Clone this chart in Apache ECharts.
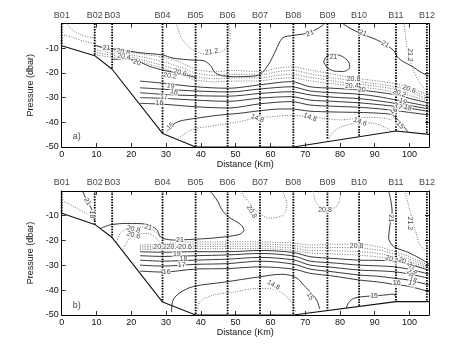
<!DOCTYPE html>
<html><head><meta charset="utf-8">
<script src="https://cdn.jsdelivr.net/npm/echarts@6/dist/echarts.min.js"></script>
<style>html,body{margin:0;padding:0;background:#fff}#c{width:474px;height:355px}</style>
</head><body><div id="c"></div>
<script>
// ---------- stations ----------
const stationNames = ['B01','B02','B03','B04','B05','B06','B07','B08','B09','B10','B11','B12'];
const stationKm = [0, 9.5, 14.5, 29, 38.5, 47.7, 57, 66.6, 76.4, 85.5, 96.1, 105];
const stationBottomA = [-9, -13, -18.5, -44.5, -50, -50, -50, -50, -47, -45.8, -43.5, -44.8];
const stationBottomB = [-9, -13.5, -18.8, -44.8, -50, -50, -50, -50, -48.2, -46.5, -44.6, -44.6];
const topoA = [[0,-9],[9.5,-13],[14.5,-18.5],[29,-44.5],[38.5,-50],[66.6,-50],[96.1,-43.5],[105.6,-44.9]];
const topoB = [[0,-9],[9.5,-13.5],[14.5,-18.8],[29,-44.8],[38.5,-50],[66.6,-50],[96.1,-44.6],[105.6,-44.6]];

// ---------- panel a) contours ----------
const a21L = [[9.4,-8.7],[12.9,-10],[15.8,-10.4],[22.5,-11.8],[29,-12.7],[32,-14],[37.9,-14.8],[40.7,-15],[42.8,-17],[44.2,-20],[46.5,-21.2],[50.3,-21.5],[54,-21.4],[57,-20.6],[59.5,-16.5],[61.5,-11],[63.5,-5.8],[66.5,-4.8],[70.5,-3.9],[73.8,-1.9],[75.5,0]];
const a21R = [[80.8,0],[82.4,-1.5],[85.8,-3.9],[90.6,-6.6],[94,-9.3],[95.8,-11.5],[96.5,-13.5],[98.2,-15.4],[101,-17.5],[103,-19.5],[105.6,-21.3]];
const a21Loop = [[75.3,-15.5],[76.2,-13.2],[78,-12.4],[80.5,-13.2],[82.5,-15.5],[82.8,-17.8],[81,-19.4],[78.3,-19.2],[76.3,-17.8],[75.3,-15.5]];
const a20 = [[14.5,-14.5],[18,-14.4],[20.5,-14.8],[22.5,-15.5],[25,-17.2],[27.3,-18.2],[29.5,-19],[33,-20],[38.5,-21.8]];
const xsA = [22.5, 29.5, 38.5, 48, 57, 66, 71.4, 78, 85.5, 91, 96.3, 100, 105.6];
const aL1 = [-23.3,-24.2,-25.6,-26.2,-24.8,-23.5,-25.6,-26.2,-26.9,-27.8,-28.9,-30.3,-32.2];
const aL2 = [-26,-26.6,-27.3,-27.7,-26.5,-25.6,-27.3,-28,-28.6,-29.6,-31,-32,-33.6];
const aL3 = [-28,-28.7,-29.2,-29.4,-28.3,-27.6,-28.9,-29.8,-30.4,-31.3,-32.4,-33.2,-34.6];
const aL4 = [-30,-30.3,-31,-31.5,-30.2,-29.6,-31,-31.5,-32.1,-32.8,-33.6,-34.3,-35.6];
const aL5 = [-32.3,-32.7,-33.7,-34.2,-32.5,-31.6,-33,-33.5,-33.9,-34.5,-35.3,-36,-37];
const a15 = [[30.5,-43.5],[31.5,-41.3],[34,-39.5],[38.5,-38.4],[44.6,-37.2],[51.3,-36.3],[57,-35.3],[63,-34.6],[66,-34.6],[71.4,-35.5],[78,-35.8],[85.5,-36],[91,-36.3],[95,-37],[97.3,-40],[99.5,-43.8]];
const xsBandA = [9.5,14.5,20,25,29.5,34,38.5,44,50,57,62,66,71.4,78,85.5,91,96.3,100,105.6];
const aD1 = [-9,-10.9,-11.7,-12.7,-13.7,-15.6,-18.5,-19.5,-19,-19.5,-18,-17.5,-18.8,-20.5,-22.3,-23.3,-24.5,-26,-28.8];
const aD2 = [-10.5,-11.9,-12.7,-14.1,-15.6,-17.6,-20,-21,-20.6,-20.8,-19.5,-19,-20.3,-22,-23.5,-24.5,-25.7,-27,-29.7];
const aD3 = [-11.6,-12.9,-13.6,-15.4,-17.1,-19.1,-21.5,-22.3,-22,-22,-21,-20.6,-21.8,-23.2,-24.6,-25.5,-26.7,-28,-30.5];
const aD4 = [-12.6,-13.7,-14.3,-16.4,-18.3,-20.6,-22.8,-23.6,-23.3,-23.2,-22.3,-22,-23.2,-24.4,-25.6,-26.6,-27.8,-29.1,-31.4];
const a212L = [[33,0],[34.5,-6],[37.8,-10.7],[41.5,-12.5],[45,-12],[47.5,-9.4],[48.5,-5],[48,0]];
const a212R = [[98.5,0],[98.7,-3],[99.2,-9.4],[100,-14],[101.1,-18.8],[103,-24.2],[105.6,-28.5]];
const aTL1 = [[0,-4.5],[3,-5.5],[6,-7],[9.4,-8]];
const aTL2 = [[1.5,0],[3,-2.5],[5.5,-4.5],[9.4,-6]];
const a148 = [[33.5,-46.5],[36,-44],[38.2,-42.6],[44.5,-41.2],[50,-40],[55.6,-38.4],[62,-37.5],[66,-37.2],[71.4,-37.7],[76,-38.5],[80,-39],[84,-38.5],[88,-38],[92,-38.2],[95,-39]];
const a146 = [[76.5,-47.5],[78,-44],[81,-41.5],[85.8,-40.2],[90,-40.5],[93,-42],[95,-43.8]];

// ---------- panel b) contours ----------
const b21L = [[6,0],[6.6,-2],[7.5,-4.5],[8.5,-7],[9.1,-9.5],[9.4,-12]];
const bTLd = [[0,-4],[2,-5.2],[5,-7.5],[7.5,-9.5],[9.4,-11]];
const b21M = [[11,-15.2],[13.9,-13.7],[18.7,-13.1],[24.4,-13.4],[27.3,-15.6],[28.3,-18.3],[29.5,-19.3],[32.1,-19.8],[37.8,-19.5],[42.6,-19.1],[47.5,-18.4],[51.3,-17.4],[52.4,-15.8],[51.5,-13.6],[48,-10.5],[46,-7.5],[45,-4.5],[43.6,-1.7],[42.6,0]];
const b21R = [[94,0],[94.5,-3],[95,-8.3],[94.4,-13.7],[94,-19.1],[95,-21.8],[96.3,-23.1],[99.2,-24.5],[103,-27.2],[105.6,-29.5]];
const b212R = [[98.5,0],[99.2,-3],[100.2,-8.4],[101.1,-13.1],[102.1,-17.8],[103,-21.8],[105.6,-24.8]];
const b208a = [[51.5,0],[52.2,-1.7],[53.7,-4.3],[56.1,-8.4],[59.9,-11],[63.7,-9.7],[64.7,-5.7],[64,-1.7],[63.3,0]];
const b208b = [[72.2,0],[72.4,-1],[73.3,-5],[76.1,-7.7],[79,-6.3],[80,-3],[80.2,0]];
const bArc1 = [[15.8,-20.5],[17,-16.8],[19.5,-15],[23,-14.6],[26.3,-15.8],[28.2,-18.5]];
const bArc2 = [[17.8,-23.5],[19.3,-19.5],[21.8,-17.3],[24.8,-17.2],[27.2,-19],[28.6,-22]];
const xsBandB = [22.5,29,34,38.4,44,50,57,62,66.6,71.4,78,85.5,91,95.8,100,105.6];
const bD1 = [-21.8,-21.5,-20.8,-20.5,-20.6,-20.5,-20.5,-20.8,-21,-21.8,-21.5,-21.5,-22.5,-24.5,-26.5,-30.2];
const bD2 = [-22.4,-22.2,-21.6,-21.4,-21.5,-21.4,-21.4,-21.7,-22,-22.9,-22.8,-23,-23.8,-25.5,-27.5,-30.6];
const bD3 = [-23,-22.9,-22.4,-22.3,-22.4,-22.3,-22.3,-22.6,-23,-24,-24.1,-24.5,-25.2,-26.6,-28.5,-31];
const bD4 = [-23.6,-23.6,-23.2,-23.2,-23.3,-23.2,-23.2,-23.5,-24,-25,-25.4,-25.9,-26.6,-27.7,-29.5,-31.4];
const xsB = [22.5,29,38.4,47.7,57,66.6,71.4,78,85.5,91,95.8,100,105.6];
const bL1 = [-24.5,-24.7,-24.5,-24.5,-24,-24.8,-26.5,-27.2,-27.9,-28,-28.3,-29.6,-32];
const bL2 = [-26.1,-26.4,-26.1,-25.8,-25.2,-26.2,-28.3,-29,-29.9,-30.2,-30.6,-31.6,-33.5];
const bL3 = [-27.9,-28.3,-27.9,-27.5,-26.8,-27.8,-29.9,-30.8,-31.9,-32.2,-32.6,-33.5,-35.2];
const bL4 = [-29.9,-30.3,-29.6,-29.3,-28.3,-29.5,-31.5,-32.6,-33.9,-34.4,-35.2,-36,-37.9];
const bL5 = [-32.3,-32.7,-31.5,-31.3,-30.6,-31.5,-33.2,-34.3,-35.9,-36.7,-37.7,-38.5,-40.6];
const b15 = [[31.6,-48.8],[32,-44],[34,-41],[37.9,-38.5],[46.5,-36.8],[57,-34.6],[63,-33.6],[65.7,-34],[68,-35.5],[69.5,-37.9],[71.4,-40.6],[73.3,-44],[74.2,-47.6]];
const b15R = [[81.8,-47.3],[82.5,-45],[84,-43.3],[86.7,-42.6],[92.5,-42],[95.5,-41.6],[96.1,-43]];
const b148 = [[38.7,-49.5],[39.8,-44.5],[43.6,-42],[49.4,-40.8],[56.1,-39.3],[60.9,-39.6],[64,-41.8],[66.3,-45.3],[67.3,-48.8]];

// ---------- contour labels [km, dbar, text, rotation] ----------
const labelsA = [
 [12.9,-10,'21',0],[17.7,-11.4,'20.8',-10],[17.9,-13.4,'20.4',-10],[21.6,-15.8,'20',-20],
 [43.1,-11.4,'21.2',10],[34,-19.9,'20.6',-15],[31.1,-21.2,'20.2',-10],[31.3,-25.3,'19',-10],
 [32.3,-27.7,'18',-15],[29.4,-29.9,'17',0],[28.1,-32,'16',0],[31.3,-41.5,'15',45],
 [56.3,-38.4,'14.8',-20],[71.4,-38,'14.8',-20],[71.4,-3.9,'21',20],[78.1,-13.4,'21',0],
 [86.6,-3.9,'21',-20],[93,-8.4,'21',-30],[100.2,-12.7,'21.2',-90],[83.9,-22.4,'20.8',0],
 [83.4,-25.2,'20.4',0],[86.3,-26.9,'20',0],[99.9,-26.6,'20.6',-20],[97.1,-28.2,'20.2',-20],
 [98.1,-31.6,'19',-20],[99.5,-34.1,'18',-20],[96.8,-33.7,'17',-20],[95.4,-35.4,'16',30],
 [85.8,-39.8,'14.6',-20],[97.3,-41.1,'15',-45]
];
const labelsB = [
 [7.4,-4.3,'21',-60],[8.6,-9.5,'18',-90],[20.6,-15.5,'20.8',-15],[20.6,-17.8,'20.6',-15],
 [24.9,-14.7,'21',-15],[34,-19.8,'21',0],[28.3,-22.7,'20.2',0],[32.1,-22.7,'20.4',0],
 [35.5,-22.7,'20.6',0],[33.1,-25.4,'19',0],[35,-27.6,'18',0],[34.5,-29.9,'17',0],
 [30.2,-32.6,'16',0],[54.6,-8.4,'20.8',-60],[75.7,-7.7,'20.8',0],[84.8,-22.2,'20.8',0],
 [94.7,-11,'21',-90],[100.2,-13.1,'21.2',-90],[94.9,-27.6,'20.2',-20],[98.7,-28.5,'20.6',-20],
 [100.7,-31.2,'20.8',-60],[100.1,-33.2,'19',-60],[101,-35.9,'18',-20],[100.7,-37.3,'17',-20],
 [96.3,-37.3,'16',0],[60.9,-37.9,'14.8',-30],[71.4,-42.5,'15',-60],[89.8,-42.4,'15',0]
];
const panelTags = [[4.3,-45.8,'a)'],[4.3,-46,'b)']];
const xTicks = [0,10,20,30,40,50,60,70,80,90,100];
const yTicks = [-50,-40,-30,-20,-10];

// ---------- build ----------
const FONT = '"Liberation Sans", Arial, Helvetica, sans-serif';
const zip = (xs, ys) => xs.map((x, i) => [x, ys[i]]);
const solid = {color:'#151515', width:0.85};
const dotted = {color:'#777', width:1, type:[1,1.5]};
function ln(p, data, style, z, smooth) {
  return {type:'line', xAxisIndex:p*2, yAxisIndex:p*2, data:data, symbol:'none', showSymbol:false,
    smooth: smooth === undefined ? 0.3 : smooth, lineStyle:style, silent:true, z:z||2, clip:true};
}
function labelSeries(p, arr, size, bg) {
  return {type:'scatter', xAxisIndex:p*2, yAxisIndex:p*2, symbolSize:1, clip:false, silent:true, z:8,
    itemStyle:{color:'transparent'},
    data: arr.map(d => ({value:[d[0], d[1], d[2]], label:{rotate: d[3] || 0}})),
    label:{show:true, position:'inside', formatter: q => q.data.value[2], fontSize:size, color:'#111',
      fontFamily:FONT, backgroundColor: bg ? '#fff' : 'transparent', padding:[0,0.5], lineHeight:size}};
}
const series = [];
// panel a
[aD1,aD2,aD3,aD4].forEach(d => series.push(ln(0, zip(xsBandA, d), dotted)));
[a212L, a212R, aTL1, aTL2, a148, a146].forEach(d => series.push(ln(0, d, dotted)));
[a21L, a21R, a21Loop, a20, a15].forEach(d => series.push(ln(0, d, solid, 3)));
[aL1,aL2,aL3,aL4,aL5].forEach(d => series.push(ln(0, zip(xsA, d), solid, 3)));
// panel b
[bD1,bD2,bD3,bD4].forEach(d => series.push(ln(1, zip(xsBandB, d), dotted)));
[bTLd, b212R, b208a, b208b, bArc1, bArc2, b148].forEach(d => series.push(ln(1, d, dotted)));
[b21L, b21M, b21R, b15, b15R].forEach(d => series.push(ln(1, d, solid, 3)));
[bL1,bL2,bL3,bL4,bL5].forEach(d => series.push(ln(1, zip(xsB, d), solid, 3)));
// topography + stations
const topoStyle = {color:'#111', width:1.1};
series.push(ln(0, topoA, topoStyle, 5, false));
series.push(ln(1, topoB, topoStyle, 5, false));
const stStyle = {color:'#000', width:1.8, type:[1.5,1.2]};
stationKm.forEach((k, i) => {
  series.push(ln(0, [[k,0],[k,stationBottomA[i]]], stStyle, 6, false));
  series.push(ln(1, [[k,0],[k,stationBottomB[i]]], stStyle, 6, false));
});
[0,1].forEach(p => series.push({type:'scatter', xAxisIndex:p*2, yAxisIndex:p*2, symbolSize:1, clip:false, silent:true, z:9,
  itemStyle:{color:'transparent'}, data: stationKm.map((k,i) => [k, 0, stationNames[i]]),
  label:{show:true, position:'top', distance:3, formatter: q => q.data[2], fontSize:9, color:'#111', fontFamily:FONT}}));
series.push(labelSeries(0, labelsA, 7, true));
series.push(labelSeries(1, labelsB, 7, true));
series.push(labelSeries(0, [panelTags[0]], 9, false));
series.push(labelSeries(1, [panelTags[1]], 9, false));

const grids = [{left:61.7, top:23.6, width:367.3, height:123.4}, {left:61.7, top:190.9, width:367.3, height:124.1}];
const xAxis = [], yAxis = [];
const txt = {fontSize:9, color:'#111', fontFamily:FONT};
grids.forEach((g, i) => {
  const common = {type:'value', gridIndex:i, min:0, max:105.6, interval:10, splitLine:{show:false},
    axisLine:{show:true, onZero:false, lineStyle:{color:'#000', width:1}},
    axisTick:{show:true, inside:true, length:4, lineStyle:{color:'#000', width:0.8}}};
  xAxis.push(Object.assign({}, common, {position:'bottom', name:'Distance (Km)', nameLocation:'middle', nameGap:12,
    nameTextStyle:txt, axisLabel:Object.assign({margin:3.5, formatter: v => xTicks.indexOf(Math.round(v*10)/10) >= 0 ? String(v) : ''}, txt)}));
  xAxis.push(Object.assign({}, common, {position:'top', axisLabel:{show:false}}));
  const ycommon = {type:'value', gridIndex:i, min:-50, max:0, interval:10, splitLine:{show:false},
    axisLine:{show:true, onZero:false, lineStyle:{color:'#000', width:1}},
    axisTick:{show:true, inside:true, length:4, lineStyle:{color:'#000', width:0.8}}};
  yAxis.push(Object.assign({}, ycommon, {position:'left', name:'Pressure (dbar)', nameLocation:'middle', nameGap:20,
    nameTextStyle:txt, axisLabel:Object.assign({margin:3, formatter: v => yTicks.indexOf(v) >= 0 ? String(v) : ''}, txt)}));
  yAxis.push(Object.assign({}, ycommon, {position:'right', axisLabel:{show:false}}));
});

const chart = echarts.init(document.getElementById('c'), null, {renderer:'canvas'});
chart.setOption({animation:false, backgroundColor:'#fff',
  grid: grids.map(g => Object.assign({containLabel:false, outerBoundsMode:'none'}, g)),
  xAxis, yAxis, series});
</script></body></html>
